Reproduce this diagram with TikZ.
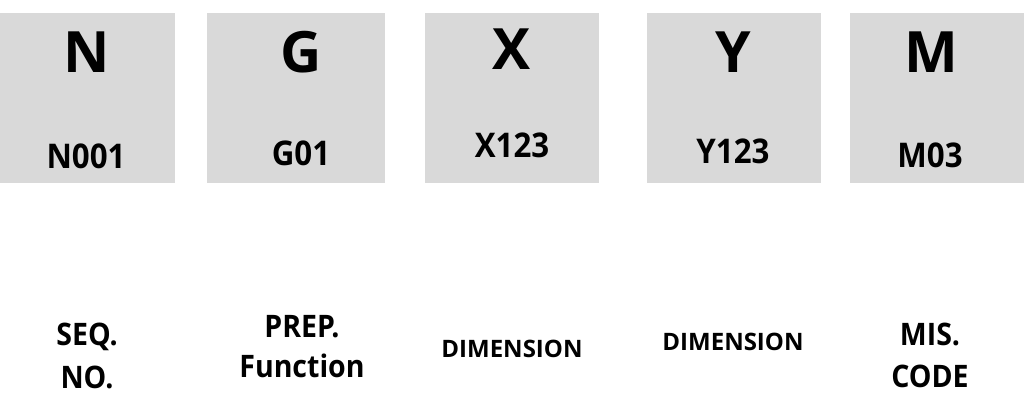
\documentclass[tikz,border=0pt]{standalone}
\usepackage{fontspec}
\setmainfont{Open Sans}[BoldFont={* Bold}]
\newfontfamily\narrowfont{Open Sans}[BoldFont={* Bold},FakeStretch=0.92]
\definecolor{boxgray}{HTML}{D9D9D9}
\begin{document}
\begin{tikzpicture}[x=1pt,y=-1pt,
  card/.style={fill=boxgray,draw=none},
  big/.style={anchor=base,inner sep=0pt,font=\fontsize{57}{60}\selectfont\bfseries},
  code/.style={anchor=base,inner sep=0pt,font=\narrowfont\fontsize{34}{36}\selectfont\bfseries},
  lbl/.style={anchor=base,inner sep=0pt,font=\narrowfont\fontsize{31}{34}\selectfont\bfseries},
  dim/.style={anchor=base,inner sep=0pt,font=\fontsize{24}{28}\selectfont\bfseries}]
\useasboundingbox (0,0) rectangle (1024,401);
\fill[card] (0,13) rectangle (175,183);
\fill[card] (207,13) rectangle (385,183);
\fill[card] (425,13) rectangle (599,183);
\fill[card] (647,13) rectangle (821,183);
\fill[card] (850,13) rectangle (1024,183);
\node[big] (bn) at (87,73) {N};
\node[big] (bg) at (301,73) {G};
\node[big] (bx) at (512,70) {X};
\node[big] (by) at (733,73) {Y};
\node[big] (bm) at (931,73) {M};
\node[code] (cn) at (86,168) {N001};
\node[code] (cg) at (301,165) {G01};
\node[code] (cx) at (512,157) {X123};
\node[code] (cy) at (733,163) {Y123};
\node[code] (cm) at (930,167) {M03};
\node[lbl] (l1a) at (87,345) {SEQ.};
\node[lbl] (l1b) at (87,388) {NO.};
\node[lbl] (l2a) at (302,337) {PREP.};
\node[lbl] (l2b) at (302,377) {Function};
\node[dim] (l3) at (512,357) {DIMENSION};
\node[dim] (l4) at (733,350) {DIMENSION};
\node[lbl] (l5a) at (930,345) {MIS.};
\node[lbl] (l5b) at (930,387) {CODE};
\end{tikzpicture}
\end{document}
